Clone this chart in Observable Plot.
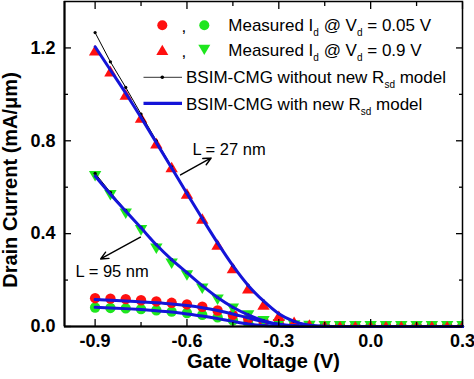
<!DOCTYPE html>
<html><head><meta charset="utf-8">
<script src="https://cdn.jsdelivr.net/npm/d3@7"></script>
<script src="https://cdn.jsdelivr.net/npm/@observablehq/plot@0.6"></script>
<style>
body{margin:0;background:#fff}
#chart{position:relative;width:474px;height:379px}
</style>
</head><body><div id="chart"></div>
<script>
// ---- data ----
const gateV = [-0.9,-0.85,-0.8,-0.75,-0.7,-0.65,-0.6,-0.55,-0.5,-0.45,-0.4,-0.35,-0.3,-0.25,-0.2,-0.15,-0.1,-0.05,0,0.05,0.1,0.15,0.2,0.25,0.3];
// measured
const meas27Vd09 = [1.19,1.10,1.00,0.90,0.79,0.687,0.573,0.465,0.353,0.252,0.165,0.095,0.046,0.02,0.008,0.003,0.001,0.001,0.001,0.001,0.001,0.001,0.001,0.001,0.001];
const meas95Vd09 = [0.647,0.565,0.486,0.414,0.335,0.27,0.22,0.163,0.115,0.076,0.047,0.023,0.01,0.004,0.002,0.001,0.001,0.001,0.001,0.001,0.001,0.001,0.001,0.001,0.001];
const meas27Vd005 = [0.122,0.12,0.118,0.113,0.108,0.102,0.095,0.085,0.069,0.05,0.033,0.023,0.012,0.005,0.002,0.001,0.001,0.001,0.001,0.001,0.001,0.001,0.001,0.001,0.001];
const meas95Vd005 = [0.082,0.08,0.078,0.075,0.07,0.064,0.058,0.05,0.04,0.027,0.014,0.005,0.002,0.001,0.001,0.001,0.001,0.001,0.001,0.001,0.001,0.001,0.001,0.001,0.001];
// BSIM-CMG with new Rsd model
const blue27Vd09 = [1.205,1.105,1.005,0.9,0.792,0.683,0.573,0.465,0.36,0.262,0.177,0.11,0.055,0.022,0.005,0.001,0,0,0,0,0,0,0,0,0];
const blue95Vd09 = [0.648,0.57,0.497,0.425,0.352,0.288,0.232,0.176,0.125,0.083,0.05,0.025,0.01,0.003,0.001,0,0,0,0,0,0,0,0,0,0];
const blue27Vd005 = [0.116,0.113,0.11,0.106,0.102,0.097,0.09,0.081,0.069,0.054,0.037,0.021,0.009,0.003,0.001,0,0,0,0,0,0,0,0,0,0];
const blue95Vd005 = [0.083,0.08,0.077,0.073,0.068,0.062,0.054,0.045,0.034,0.022,0.011,0.004,0.001,0,0,0,0,0,0,0,0,0,0,0,0];
// BSIM-CMG without new Rsd model
const black27Vd09 = [1.266,1.14,1.03,0.915,0.80,0.688,0.576,0.466,0.36,0.262,0.177,0.11,0.055,0.022,0.005,0.001,0,0,0,0,0,0,0,0,0];
const black95Vd09 = [0.66,0.578,0.5,0.427,0.353,0.288,0.232,0.176,0.125,0.083,0.05,0.025,0.01,0.003,0.001,0,0,0,0,0,0,0,0,0,0];

const xDomain = [-1.0, 0.3];
const yDomain = [0, 1.4];
const xMajor = [-0.9,-0.6,-0.3,0.0,0.3];
const xMinor = [-0.75,-0.45,-0.15,0.15];
const yMajor = [0.0,0.4,0.8,1.2];
const yMinor = [0.2,0.6,1.0];
const xTickLabels = ["-0.9","-0.6","-0.3","0.0","0.3"];
const yTickLabels = ["0.0","0.4","0.8","1.2"];
const xLabel = "Gate Voltage (V)";
const yLabel = "Drain Current (mA/\u03bcm)";
const annotations = [
  {text:"L = 27 nm", x:-0.582, y:0.76, ax1:-0.621, ay1:0.653, ax2:-0.521, ay2:0.726},
  {text:"L = 95 nm", x:-0.964, y:0.238, ax1:-0.752, ay1:0.385, ax2:-0.882, ay2:0.291}
];
const legendRows = [
  {kind:"markers", shapes:["circle","circle"], parts:[["Measured I",0],["d",1],[" @ V",0],["d",1],[" = 0.05 V",0]]},
  {kind:"markers", shapes:["up","down"], parts:[["Measured I",0],["d",1],[" @ V",0],["d",1],[" = 0.9 V",0]]},
  {kind:"black", parts:[["BSIM-CMG without new R",0],["sd",1],[" model",0]]},
  {kind:"blue", parts:[["BSIM-CMG with new R",0],["sd",1],[" model",0]]}
];

const RED = "#ff1010", GREEN = "#1ee61e", BLUE = "#1414d8";
const toRows = (ys) => gateV.map((x,i) => ({x, y: ys[i]}));

const triUp = {draw(ctx, size){ const r = Math.sqrt(size/Math.PI), h = r*0.85; ctx.moveTo(0,-h); ctx.lineTo(r,h); ctx.lineTo(-r,h); ctx.closePath(); }};
const triDown = {draw(ctx, size){ const r = Math.sqrt(size/Math.PI), h = r*0.85; ctx.moveTo(0,h); ctx.lineTo(r,-h); ctx.lineTo(-r,-h); ctx.closePath(); }};

const FONT = "'Liberation Sans', Arial, Helvetica, sans-serif";
const xFmt = d => xTickLabels[xMajor.findIndex(v => Math.abs(v-d) < 1e-9)];
const yFmt = d => yTickLabels[yMajor.findIndex(v => Math.abs(v-d) < 1e-9)];
const blank = () => "";

const chart = Plot.plot({
  width: 474, height: 379,
  marginLeft: 64, marginRight: 12, marginTop: 1, marginBottom: 53,
  style: {fontFamily: FONT, background: "white", color: "black"},
  x: {domain: xDomain, label: null},
  y: {domain: yDomain, label: null},
  marks: [
    Plot.dot(toRows(meas95Vd005), {x:"x", y:"y", r:5.2, fill:GREEN, clip:true}),
    Plot.dot(toRows(meas27Vd005), {x:"x", y:"y", r:5.2, fill:RED, clip:true}),
    Plot.dot(toRows(meas95Vd09), {x:"x", y:"y", r:6.2, fill:GREEN, symbol:triDown, clip:true}),
    Plot.dot(toRows(meas27Vd09), {x:"x", y:"y", r:6.2, fill:RED, symbol:triUp, clip:true}),
    Plot.line(toRows(black27Vd09), {x:"x", y:"y", stroke:"black", strokeWidth:1}),
    Plot.line(toRows(black95Vd09), {x:"x", y:"y", stroke:"black", strokeWidth:1}),
    Plot.dot(toRows(black27Vd09), {x:"x", y:"y", r:1.6, fill:"black"}),
    Plot.dot(toRows(black95Vd09), {x:"x", y:"y", r:1.6, fill:"black"}),
    Plot.line(toRows(blue95Vd005), {x:"x", y:"y", stroke:BLUE, strokeWidth:3, curve:"monotone-x"}),
    Plot.line(toRows(blue27Vd005), {x:"x", y:"y", stroke:BLUE, strokeWidth:3, curve:"monotone-x"}),
    Plot.line(toRows(blue95Vd09), {x:"x", y:"y", stroke:BLUE, strokeWidth:3, curve:"monotone-x"}),
    Plot.line(toRows(blue27Vd09), {x:"x", y:"y", stroke:BLUE, strokeWidth:3, curve:"monotone-x"}),
    // annotations
    Plot.text(annotations, {x:"x", y:"y", text:"text", textAnchor:"start", fontSize:16.5, fill:"black"}),
    Plot.arrow(annotations, {x1:"ax1", y1:"ay1", x2:"ax2", y2:"ay2", stroke:"black", strokeWidth:1.4, headLength:9, headAngle:50}),
    // frame and axes
    Plot.frame({stroke:"black", strokeWidth:1.5}),
    Plot.ruleX([xDomain[0]], {stroke:"black", strokeWidth:2}),
    Plot.ruleY([yDomain[0]], {stroke:"black", strokeWidth:2}),
    Plot.axisX({ticks:xMajor, tickSize:-7, tickFormat:blank, strokeWidth:1.3}),
    Plot.axisX({ticks:xMinor, tickSize:-4, tickFormat:blank, strokeWidth:1.3}),
    Plot.axisX({anchor:"top", ticks:xMajor, tickSize:-7, tickFormat:blank, strokeWidth:1.3}),
    Plot.axisX({anchor:"top", ticks:xMinor, tickSize:-4, tickFormat:blank, strokeWidth:1.3}),
    Plot.axisY({ticks:yMajor, tickSize:-7, tickFormat:blank, strokeWidth:1.3}),
    Plot.axisY({ticks:yMinor, tickSize:-4, tickFormat:blank, strokeWidth:1.3}),
    Plot.axisY({anchor:"right", ticks:yMajor, tickSize:-7, tickFormat:blank, strokeWidth:1.3}),
    Plot.axisY({anchor:"right", ticks:yMinor, tickSize:-4, tickFormat:blank, strokeWidth:1.3}),
    Plot.axisX({ticks:xMajor, tickSize:0, tickPadding:8, tickFormat:xFmt, fontSize:18, fontWeight:"bold", fill:"black"}),
    Plot.axisY({ticks:yMajor, tickSize:0, tickPadding:9, tickFormat:yFmt, fontSize:18, fontWeight:"bold", fill:"black"}),
    Plot.text([xLabel], {frameAnchor:"bottom", dy:41, fontSize:20, fontWeight:"bold", fill:"black"}),
    Plot.text([yLabel], {frameAnchor:"left", textAnchor:"middle", dx:-54, dy:16, rotate:-90, fontSize:20, fontWeight:"bold", fill:"black"})
  ]
});
document.getElementById("chart").appendChild(chart);

// ---- legend (inside plot, top right) ----
const svg = d3.select(chart);
const lg = svg.append("g").attr("font-family", FONT).attr("font-size", 17).attr("fill", "black").attr("text-anchor", "start");
const rowY = [25.3, 49.8, 77.3, 103.3];
const baseY = [30.8, 56.2, 83.2, 109.7];
const symFor = {circle: d3.symbolCircle, up: triUp, down: triDown};
legendRows.forEach((row, i) => {
  if (row.kind === "markers") {
    [RED, GREEN].forEach((c, j) => {
      const sh = row.shapes[j];
      const r = sh === "circle" ? 5 : 6;
      lg.append("path")
        .attr("d", d3.symbol().type(symFor[sh]).size(Math.PI*r*r)())
        .attr("transform", `translate(${j===0?162.3:204.3},${rowY[i]})`)
        .attr("fill", c);
    });
    lg.append("text").attr("x", 181.5).attr("y", baseY[i]+1).text(",");
  } else {
    lg.append("line").attr("x1", 143.5).attr("x2", 182).attr("y1", rowY[i]).attr("y2", rowY[i])
      .attr("stroke", row.kind === "black" ? "#333" : BLUE)
      .attr("stroke-width", row.kind === "black" ? 1 : 3.2);
    if (row.kind === "black") lg.append("circle").attr("cx", 162.3).attr("cy", rowY[i]).attr("r", 1.8).attr("fill", "black");
  }
  const t = lg.append("text").attr("x", row.kind === "markers" ? 228.3 : 186).attr("y", baseY[i]);
  let shifted = false;
  row.parts.forEach(([s, sub]) => {
    const ts = t.append("tspan").text(s);
    if (sub && !shifted) { ts.attr("font-size", 10).attr("dy", 5); shifted = true; }
    else if (!sub && shifted) { ts.attr("dy", -5); shifted = false; }
  });
});
</script>
</body></html>
